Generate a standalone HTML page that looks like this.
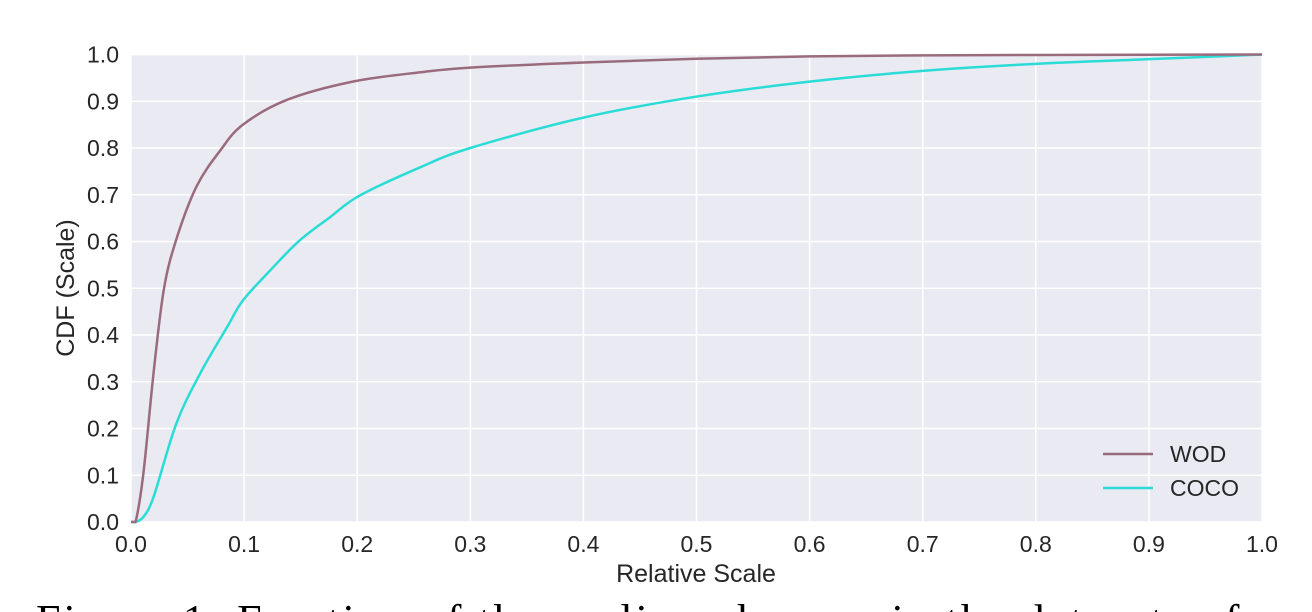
<!DOCTYPE html>
<html><head><meta charset="utf-8"><style>
html,body{margin:0;background:#fff;width:1312px;height:612px;overflow:hidden;position:relative;font-family:"Liberation Sans",sans-serif}
#capbox{position:absolute;left:0;top:599px;width:1312px;height:13px;overflow:hidden}
#cap{position:absolute;left:36px;top:0;font-family:"Liberation Serif",serif;font-size:44px;line-height:44px;white-space:nowrap;color:#000;letter-spacing:3px}
</style></head><body>
<svg id="chart" width="1312" height="612" style="position:absolute;left:0;top:0"></svg>
<div id="capbox"><div id="cap">Figure 1: Fraction of the scaling changes in the datasets of</div></div>
<script>
const xTicks=[0,0.1,0.2,0.3,0.4,0.5,0.6,0.7,0.8,0.9,1.0];
const yTicks=[0,0.1,0.2,0.3,0.4,0.5,0.6,0.7,0.8,0.9,1.0];
const wodX=[0,0.004,0.011,0.02,0.029,0.04,0.058,0.079,0.099,0.138,0.196,0.256,0.3,0.4,0.5,0.6,0.7,0.8,1.0];
const wodY=[0,0,0.105,0.32,0.497,0.604,0.718,0.795,0.85,0.903,0.942,0.962,0.972,0.983,0.991,0.996,0.998,0.999,1.0];
const cocoX=[0,0.004,0.011,0.02,0.04,0.061,0.085,0.099,0.123,0.149,0.176,0.202,0.256,0.3,0.4,0.5,0.6,0.7,0.8,0.9,1.0];
const cocoY=[0,0,0.011,0.054,0.21,0.317,0.417,0.474,0.538,0.602,0.652,0.698,0.759,0.80,0.865,0.91,0.942,0.965,0.98,0.99,1.0];
const L=131,R=1262,T=54.5,B=522;
const sx=v=>L+v*(R-L), sy=v=>B-v*(B-T);
const svg=document.getElementById('chart');
const NS='http://www.w3.org/2000/svg';
function mk(t,a,p){const e=document.createElementNS(NS,t);for(const k in a)e.setAttribute(k,a[k]);(p||svg).appendChild(e);return e;}
const bg=mk('rect',{x:L,y:T,width:R-L,height:B-T,fill:'#eaeaf2'});


xTicks.forEach(v=>{
 const g=mk('line',{x1:sx(v),x2:sx(v),y1:T,y2:B,stroke:'#fff','stroke-width':1.5});
 
 
 const t=mk('text',{x:sx(v),y:552,'text-anchor':'middle','font-size':23,fill:'#262626'});
 t.textContent=v.toFixed(1);
 
 
});
yTicks.forEach(v=>{
 const g=mk('line',{x1:L,x2:R,y1:sy(v),y2:sy(v),stroke:'#fff','stroke-width':1.5});
 
 
 const t=mk('text',{x:119,y:sy(v)+8,'text-anchor':'end','font-size':23,fill:'#262626'});
 t.textContent=v.toFixed(1);
 
 
});
function line(xs,ys,c,n){
 const P=xs.map((x,i)=>[sx(x),sy(ys[i])]);
 let d='M'+P[0][0]+','+P[0][1];
 for(let i=0;i<P.length-1;i++){
  const p0=P[Math.max(i-1,0)],p1=P[i],p2=P[i+1],p3=P[Math.min(i+2,P.length-1)];
  const c1=[p1[0]+(p2[0]-p0[0])/6,p1[1]+(p2[1]-p0[1])/6];
  const c2=[p2[0]-(p3[0]-p1[0])/6,p2[1]-(p3[1]-p1[1])/6];
  d+=' C'+c1[0]+','+Math.min(c1[1],B)+' '+c2[0]+','+Math.min(c2[1],B)+' '+p2[0]+','+p2[1];
 }
 const p=mk('path',{d:d,fill:'none',stroke:c,'stroke-width':2.5,'stroke-linejoin':'round'});
 
 
}
line(cocoX,cocoY,'#2adcd6','coco-line');
line(wodX,wodY,'#9a6b7c','wod-line');
const xt=mk('text',{x:696,y:582,'text-anchor':'middle','font-size':25,fill:'#262626'});
xt.textContent='Relative Scale';


const yt=mk('text',{x:0,y:0,'text-anchor':'middle','font-size':25,fill:'#262626',transform:'translate(74,288) rotate(-90)'});
yt.textContent='CDF (Scale)';


[['WOD','#9a6b7c',454],['COCO','#2adcd6',488]].forEach(([n,c,y])=>{
 const l=mk('line',{x1:1103,x2:1153,y1:y,y2:y,stroke:c,'stroke-width':2.5});
 
 
 const t=mk('text',{x:1170,y:y+8,'font-size':23,fill:'#262626'});
 t.textContent=n;
 
 
});
</script>
</body></html>
